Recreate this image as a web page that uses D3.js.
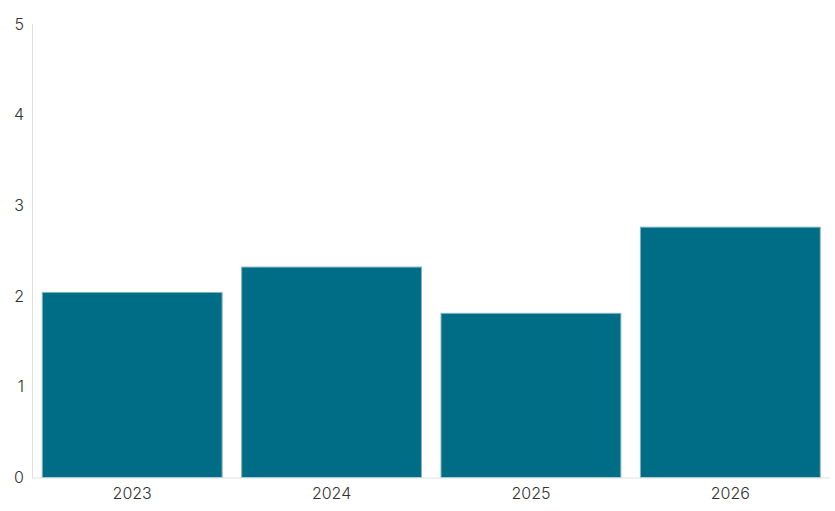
<!DOCTYPE html>
<html><head><meta charset="utf-8">
<script src="https://cdn.jsdelivr.net/npm/d3@7"></script>
<style>body{margin:0;background:#fff;} text{font-family:Inter, "Open Sans", sans-serif;}</style>
</head><body><svg id="c" width="835" height="511"></svg>
<script>
const categories = ["2023","2024","2025","2026"];
const values = [2.04, 2.32, 1.81, 2.76];
const yTicks = [0,1,2,3,4,5];

(function(){
const svg = d3.select("#c");
const mLeft = 32.5, mRight = 830, mTop = 24, mBottom = 477.5;
const x = d3.scaleBand().domain(categories).range([mLeft, mRight]).paddingInner(0.093).paddingOuter(0.0465);
const y = d3.scaleLinear().domain([0,5]).range([mBottom, mTop]);

svg.append("g").selectAll("rect").data(categories).join("rect")
  .attr("x", d => x(d)+0.5)
  .attr("y", (d,i) => y(values[i]))
  .attr("width", x.bandwidth()-1)
  .attr("height", (d,i) => mBottom - y(values[i]))
  .attr("fill", "#006d87")
  .attr("stroke", "#7fb3c2")
  .attr("stroke-width", 1);

svg.append("line").attr("x1", mLeft).attr("x2", mLeft).attr("y1", mTop).attr("y2", mBottom+0.5)
  .attr("stroke", "#e0e0e0");
svg.append("line").attr("x1", mLeft).attr("x2", mRight).attr("y1", mBottom+0.5).attr("y2", mBottom+0.5)
  .attr("stroke", "#e0e0e0");

svg.append("g").selectAll("text").data(yTicks).join("text")
  .attr("x", 24).attr("y", d => y(d)).attr("dy", "0.35em")
  .attr("text-anchor", "end").attr("font-size", 16).attr("font-weight", 300).attr("fill", "#333")
  .text(d => d);

svg.append("g").selectAll("text").data(categories).join("text")
  .attr("x", d => x(d) + x.bandwidth()/2).attr("y", mBottom + 16).attr("dy", "0.35em")
  .attr("text-anchor", "middle").attr("font-size", 16).attr("font-weight", 300).attr("fill", "#333")
  .text(d => d);
})();
</script></body></html>
